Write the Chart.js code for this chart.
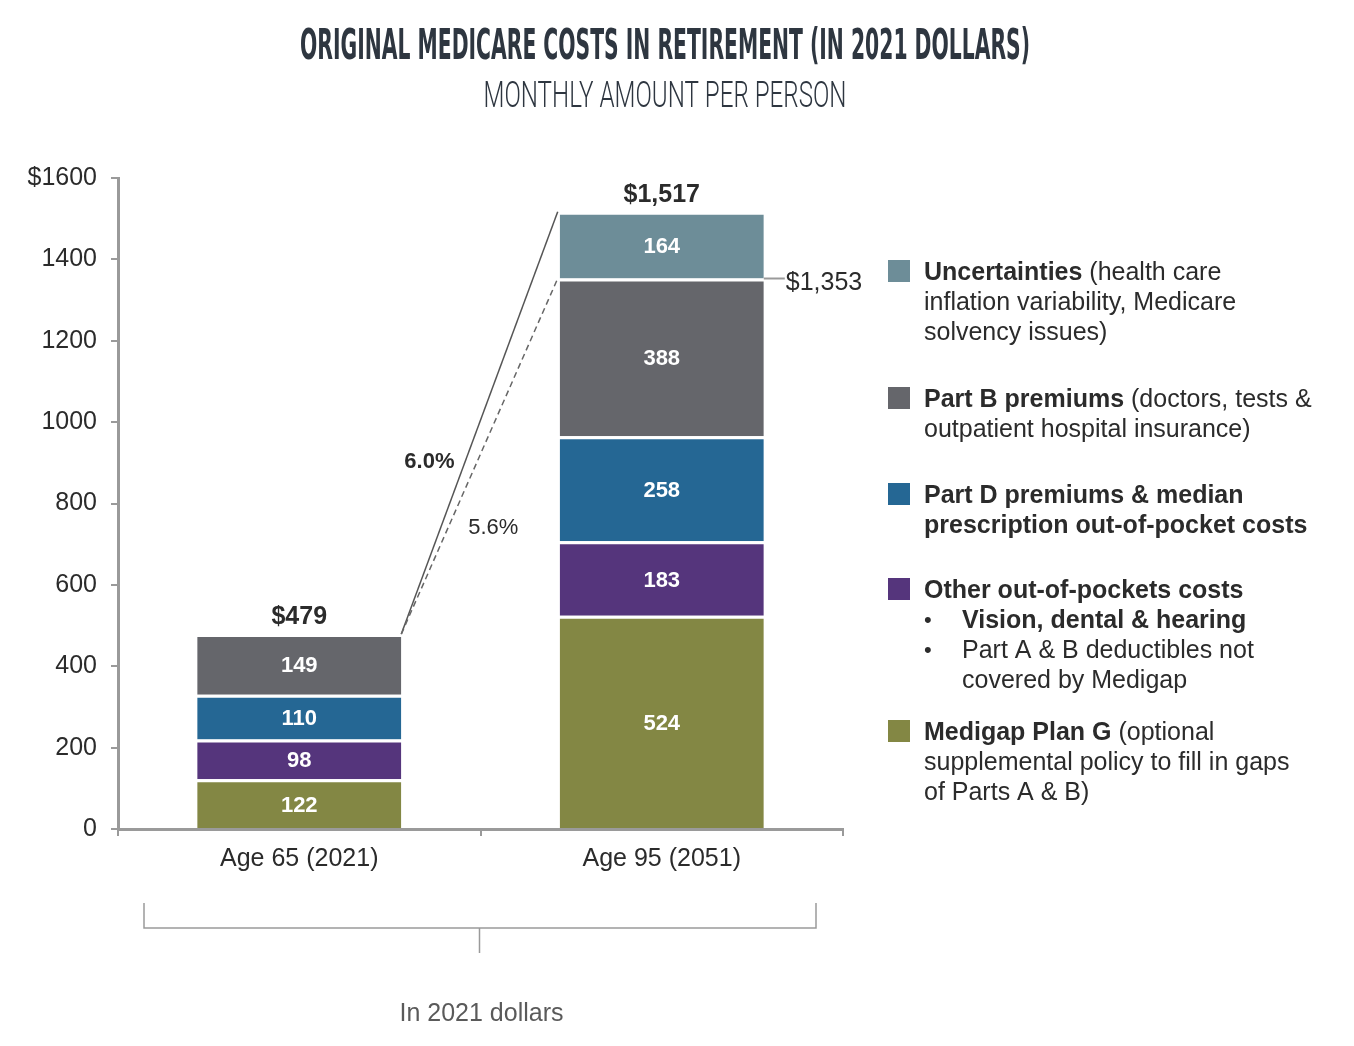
<!DOCTYPE html>
<html>
<head>
<meta charset="utf-8">
<title>Original Medicare Costs in Retirement</title>
<script src="https://cdn.jsdelivr.net/npm/chart.js@4.4.1/dist/chart.umd.min.js"></script>
<style>
  html, body { margin: 0; padding: 0; background: #fff; }
  #wrap { position: relative; width: 1354px; height: 1046px; }
</style>
</head>
<body>
<div id="wrap"><canvas id="medicare-chart" width="1354" height="1046"></canvas></div>
<script>
// Chart data
const categories = ['Age 65 (2021)', 'Age 95 (2051)'];
const medigapPlanG = [122, 524];
const otherOutOfPocket = [98, 183];
const partDPremiums = [110, 258];
const partBPremiums = [149, 388];
const uncertainties = [null, 164];
const growthWith = '6.0%';
const growthWithout = '5.6%';
const yTickValues = [0, 200, 400, 600, 800, 1000, 1200, 1400, 1600];

const TITLE = 'ORIGINAL MEDICARE COSTS IN RETIREMENT (IN 2021 DOLLARS)';
const SUBTITLE = 'MONTHLY AMOUNT PER PERSON';
const FOOTNOTE = 'In 2021 dollars';

// Legend text, top to bottom ("**" toggles bold, "•" bullet line, ">" indented line)
const legendEntries = [
  { dataset: 4, lines: ['**Uncertainties** (health care', 'inflation variability, Medicare', 'solvency issues)'] },
  { dataset: 3, lines: ['**Part B premiums** (doctors, tests &', 'outpatient hospital insurance)'] },
  { dataset: 2, lines: ['**Part D premiums & median**', '**prescription out-of-pocket costs**'] },
  { dataset: 1, lines: ['**Other out-of-pockets costs**', '•**Vision, dental & hearing**', '•Part A & B deductibles not', '>covered by Medigap'] },
  { dataset: 0, lines: ['**Medigap Plan G** (optional', 'supplemental policy to fill in gaps', 'of Parts A & B)'] },
];

const FONT = "'Liberation Sans', Arial, sans-serif";
const font = (size, bold) => `${bold ? 'bold ' : ''}${size}px ${FONT}`;
const TEXT = '#2b2b2b';
const AXIS = '#9a9a9a';

Chart.defaults.font.family = FONT;

// Text squeezed to a target width (condensed heading look)
function drawSqueezed(ctx, text, cx, cy, f, width, color) {
  ctx.save();
  ctx.font = f;
  const k = width / ctx.measureText(text).width;
  ctx.translate(cx, cy);
  ctx.scale(k, 1);
  ctx.fillStyle = color;
  ctx.textAlign = 'center';
  ctx.textBaseline = 'middle';
  ctx.fillText(text, 0, 0);
  ctx.restore();
}

// Draw one line made of bold / regular runs
function drawRuns(ctx, line, x, y) {
  const parts = line.split('**');
  parts.forEach((part, i) => {
    if (!part) return;
    ctx.font = font(25, i % 2 === 1);
    ctx.fillText(part, x, y);
    x += ctx.measureText(part).width;
  });
}

const headingPlugin = {
  id: 'heading',
  afterDraw(chart) {
    const ctx = chart.ctx;
    drawSqueezed(ctx, TITLE, 665, 48, "bold 42px 'Liberation Sans Narrow', 'DejaVu Sans Condensed', sans-serif", 730, '#2e3640');
    drawSqueezed(ctx, SUBTITLE, 665, 98, "300 36px Roboto, sans-serif", 363, '#2e3640');
  }
};

const barLabelsPlugin = {
  id: 'barLabels',
  afterDatasetsDraw(chart) {
    const ctx = chart.ctx;
    const y = chart.scales.y;
    ctx.save();
    ctx.textAlign = 'center';
    ctx.textBaseline = 'middle';

    // values inside segments
    ctx.font = font(22, true);
    ctx.fillStyle = '#fff';
    chart.data.datasets.forEach((ds, i) => {
      chart.getDatasetMeta(i).data.forEach((bar, j) => {
        const v = ds.data[j];
        if (v == null) return;
        ctx.fillText(String(v), bar.x, (bar.y + bar.base) / 2 + 2);
      });
    });

    // totals above the stacks
    const bars = chart.getDatasetMeta(0).data;
    const totals = categories.map((c, j) =>
      chart.data.datasets.reduce((a, ds) => a + (ds.data[j] || 0), 0));
    ctx.font = font(25, true);
    ctx.fillStyle = TEXT;
    totals.forEach((t, j) => {
      ctx.fillText('$' + t.toLocaleString('en-US'), bars[j].x, y.getPixelForValue(t) - 17);
    });

    // total without uncertainties on the second stack
    const base = totals[1] - uncertainties[1];
    const b1 = bars[1];
    const yb = y.getPixelForValue(base);
    ctx.strokeStyle = AXIS;
    ctx.lineWidth = 2;
    ctx.beginPath();
    ctx.moveTo(b1.x + b1.width / 2, yb);
    ctx.lineTo(b1.x + b1.width / 2 + 21, yb);
    ctx.stroke();
    ctx.font = font(25, false);
    ctx.textAlign = 'left';
    ctx.fillText('$' + base.toLocaleString('en-US'), b1.x + b1.width / 2 + 22, yb + 5);

    // growth lines between the stacks
    const b0 = bars[0];
    const x0 = b0.x + b0.width / 2, y0 = y.getPixelForValue(totals[0]);
    const x1 = b1.x - b1.width / 2 - 2;
    const yTop = y.getPixelForValue(totals[1]);
    ctx.strokeStyle = '#555';
    ctx.lineWidth = 1.5;
    ctx.beginPath();
    ctx.moveTo(x0, y0);
    ctx.lineTo(x1, yTop);
    ctx.stroke();
    ctx.setLineDash([6, 4]);
    ctx.strokeStyle = '#666';
    ctx.beginPath();
    ctx.moveTo(x0, y0);
    ctx.lineTo(x1, yb);
    ctx.stroke();
    ctx.setLineDash([]);

    ctx.textAlign = 'center';
    ctx.font = font(22, true);
    let t = 0.41;
    ctx.fillText(growthWith, x0 + (x1 - x0) * t - 36, y0 + (yTop - y0) * t + 1);
    ctx.font = font(22, false);
    t = 0.30;
    ctx.fillText(growthWithout, x0 + (x1 - x0) * t + 45, y0 + (yb - y0) * t + 1);
    ctx.restore();
  }
};

const legendPlugin = {
  id: 'sideLegend',
  afterDraw(chart) {
    const ctx = chart.ctx;
    const entryY = [273, 400, 496, 591, 733];
    const lineH = 30;
    ctx.save();
    ctx.textAlign = 'left';
    ctx.textBaseline = 'middle';
    legendEntries.forEach((entry, i) => {
      const top = entryY[i];
      ctx.fillStyle = chart.data.datasets[entry.dataset].backgroundColor;
      ctx.fillRect(888, top - 13, 22, 22);
      ctx.fillStyle = TEXT;
      entry.lines.forEach((line, k) => {
        const ly = top + k * lineH;
        if (line[0] === '•') {
          ctx.font = font(22, false);
          ctx.fillText('•', 924, ly);
          drawRuns(ctx, line.slice(1), 962, ly);
        } else if (line[0] === '>') {
          drawRuns(ctx, line.slice(1), 962, ly);
        } else {
          drawRuns(ctx, line, 924, ly);
        }
      });
    });
    ctx.restore();
  }
};

const bracketPlugin = {
  id: 'bracket',
  afterDraw(chart) {
    const ctx = chart.ctx;
    const area = chart.chartArea;
    const left = area.left + 26, right = area.right - 27;
    const mid = (area.left + area.right) / 2 - 1;
    const y0 = area.bottom + 74, y1 = area.bottom + 99, y2 = area.bottom + 124;
    ctx.save();
    ctx.strokeStyle = AXIS;
    ctx.lineWidth = 1.5;
    ctx.beginPath();
    ctx.moveTo(left, y0);
    ctx.lineTo(left, y1);
    ctx.lineTo(right, y1);
    ctx.lineTo(right, y0);
    ctx.moveTo(mid, y1);
    ctx.lineTo(mid, y2);
    ctx.stroke();
    ctx.fillStyle = '#5a5a5a';
    ctx.font = font(25, false);
    ctx.textAlign = 'center';
    ctx.textBaseline = 'middle';
    ctx.fillText(FOOTNOTE, mid + 2, area.bottom + 185);
    ctx.restore();
  }
};

const segment = (label, data, color) => ({
  label,
  data,
  backgroundColor: color,
  borderColor: '#ffffff',
  borderWidth: { top: 3, right: 0, bottom: 0, left: 0 },
  borderSkipped: false,
  barPercentage: 0.563,
  categoryPercentage: 1,
});

const ctx = document.getElementById('medicare-chart').getContext('2d');
new Chart(ctx, {
  type: 'bar',
  data: {
    labels: categories,
    datasets: [
      segment('Medigap Plan G', medigapPlanG, '#838744'),
      segment('Other out-of-pockets costs', otherOutOfPocket, '#55357c'),
      segment('Part D premiums & median prescription out-of-pocket costs', partDPremiums, '#256794'),
      segment('Part B premiums', partBPremiums, '#65666b'),
      segment('Uncertainties', uncertainties, '#6d8d98'),
    ],
  },
  options: {
    responsive: false,
    animation: false,
    layout: { padding: { top: 178, right: 511, bottom: 157, left: 0 } },
    plugins: {
      legend: { display: false },
      title: { display: false },
      tooltip: { enabled: false },
    },
    scales: {
      x: {
        stacked: true,
        afterFit: s => { s.height = 60; },
        grid: { drawOnChartArea: false, offset: true, tickLength: 7, lineWidth: 2, color: AXIS },
        border: { color: AXIS, width: 3 },
        ticks: { color: TEXT, font: { size: 25 }, padding: 8 },
      },
      y: {
        stacked: true,
        min: 0,
        max: 1600,
        afterFit: s => { s.width = 118; },
        afterBuildTicks: s => { s.ticks = yTickValues.map(v => ({ value: v })); },
        grid: { drawOnChartArea: false, tickLength: 7, lineWidth: 2, color: AXIS },
        border: { color: AXIS, width: 3 },
        ticks: {
          color: TEXT,
          font: { size: 25 },
          padding: 14,
          callback: v => (v === 1600 ? '$' + v : String(v)),
        },
      },
    },
  },
  plugins: [headingPlugin, barLabelsPlugin, legendPlugin, bracketPlugin],
});
</script>
</body>
</html>
